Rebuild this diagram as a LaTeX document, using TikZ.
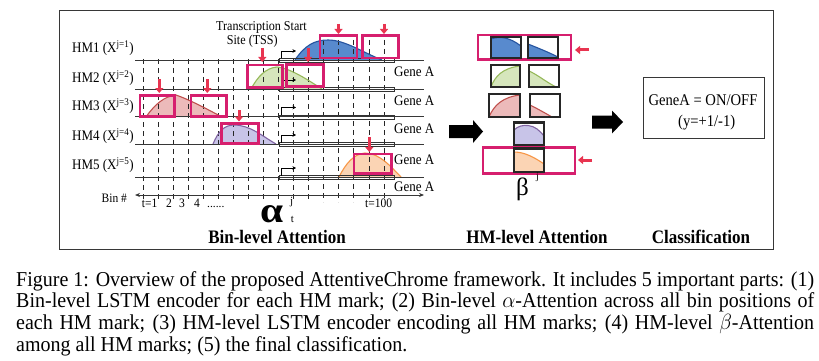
\documentclass[tikz,border=0pt]{standalone}
\usepackage{fontspec}
\setmainfont{Liberation Serif}
\usetikzlibrary{arrows.meta}
\definecolor{pinkbox}{RGB}{214,31,110}
\definecolor{redarr}{RGB}{232,52,80}
\definecolor{bluefill}{RGB}{88,138,206}
\definecolor{bluestroke}{RGB}{38,84,160}
\definecolor{greenfill}{RGB}{214,230,188}
\definecolor{greenstroke}{RGB}{150,185,90}
\definecolor{redfill}{RGB}{236,186,186}
\definecolor{redstroke}{RGB}{192,80,77}
\definecolor{purplefill}{RGB}{200,196,232}
\definecolor{purplestroke}{RGB}{128,100,162}
\definecolor{orangefill}{RGB}{251,212,180}
\definecolor{orangestroke}{RGB}{247,150,70}
\definecolor{linegray}{RGB}{55,55,55}
\newcommand{\talltext}[1]{\scalebox{1}[1.12]{#1}}
\newcommand{\captall}[1]{\scalebox{1}[1.06]{#1}}
\begin{document}
\begin{tikzpicture}[x=1pt,y=-1pt,
  hmlabel/.style={anchor=base west,inner sep=0pt,font=\fontsize{13}{15}\selectfont},
  genelabel/.style={anchor=base west,inner sep=0pt,font=\fontsize{13}{15}\selectfont},
  axislabel/.style={anchor=base west,inner sep=0pt,font=\fontsize{11.5}{13}\selectfont},
  boldlabel/.style={anchor=base,inner sep=0pt,font=\fontsize{17}{19}\selectfont\bfseries},
  capline/.style={anchor=base west,inner sep=0pt,font=\fontsize{20}{22}\selectfont},
  binline/.style={draw=linegray,line width=0.9pt},
  bindash/.style={draw=black!85,line width=0.8pt,dash pattern=on 5pt off 4pt},
  pinkrect/.style={draw=pinkbox,line width=2.6pt},
  redarrow/.style={draw=redarr,line width=3pt,-{Triangle[length=5pt,width=8pt]}},
  blackbox/.style={draw=black!85,line width=2.6pt},
  genebox/.style={draw=black!80,line width=0.8pt},
  tssarrow/.style={draw=black,line width=0.7pt,-{Stealth[length=3.5pt,width=3.5pt]}},
  sig/.style={line width=1.1pt}
]
\useasboundingbox (0,0) rectangle (819,361);
\fill[white] (0,0) rectangle (819,361);

% frame
\draw[linegray,line width=1pt] (59.5,10.5) rectangle (773,249.5);

% ---------- signal fills (left panel)
\fill[bluefill] (295,60) .. controls (305,45) and (315,40) .. (328,40) .. controls (345,40) and (362,52) .. (382,60) -- cycle;
\fill[greenfill] (251,89) .. controls (258,76) and (266,68) .. (277,67) .. controls (290,68) and (308,80) .. (322,89) -- cycle;
\fill[redfill] (146,117) .. controls (155,104) and (165,96) .. (176,95) .. controls (190,100) and (205,108) .. (222,117) -- cycle;
\fill[purplefill] (213,144) .. controls (218,132) and (224,125) .. (234,125) .. controls (250,125) and (262,136) .. (276,144) -- cycle;
\fill[orangefill] (339,177) .. controls (346,163) and (354,154) .. (365,153) .. controls (380,153) and (392,168) .. (401,177) -- cycle;

% ---------- dashed bin separators
\foreach \i in {0,...,16}{
  \pgfmathsetmacro\xx{143+15.06*\i}
  \pgfmathsetmacro\ytop{\i>11 ? 40 : 59}
  \draw[bindash] (\xx,\ytop) -- (\xx,202);
}

% ---------- signal outlines
\draw[bluestroke,sig] (295,60) .. controls (305,45) and (315,40) .. (328,40) .. controls (345,40) and (362,52) .. (382,60);
\draw[greenstroke,sig] (251,89) .. controls (258,76) and (266,68) .. (277,67) .. controls (290,68) and (308,80) .. (322,89);
\draw[redstroke,sig] (146,117) .. controls (155,104) and (165,96) .. (176,95) .. controls (190,100) and (205,108) .. (222,117);
\draw[purplestroke,sig] (213,144) .. controls (218,132) and (224,125) .. (234,125) .. controls (250,125) and (262,136) .. (276,144);
\draw[orangestroke,sig] (339,177) .. controls (346,163) and (354,154) .. (365,153) .. controls (380,153) and (392,168) .. (401,177);

% ---------- HM baselines, gene bodies, TSS arrows
\foreach \L in {60,89,116.5,144,177}{
  \draw[binline] (135,\L) -- (424,\L);
  \draw[genebox] (279,\L-1.5) rectangle (394,\L+2.5);
  \draw[tssarrow] (281,\L-1.5) -- (281,\L-9) -- (296,\L-9);
}

% bin axis
\coordinate (axL) at (135,195);
\coordinate (axR) at (424,195);
\draw[linegray,line width=0.8pt,{Stealth[length=5pt,width=4pt]}-{Stealth[length=5pt,width=4pt]}] (axL) -- (axR);

% ---------- pink attention boxes (left panel)
\draw[pinkrect] (320,35.7) rectangle (357,58);
\draw[pinkrect] (362.5,35.7) rectangle (398.5,58);
\draw[pinkrect] (247.3,65) rectangle (282.7,87.3);
\draw[pinkrect] (286.7,64.5) rectangle (323.3,86.5);
\draw[pinkrect] (140,95.3) rectangle (174.7,116.7);
\draw[pinkrect] (191,95.3) rectangle (226.7,116.7);
\draw[pinkrect] (221.7,123.3) rectangle (258.3,143.3);
\draw[pinkrect] (354,154) rectangle (391.7,173.3);

% red attention arrows
\draw[redarrow] (338.5,24) -- (338.5,34);
\draw[redarrow] (384,24) -- (384,34);
\draw[redarrow] (262.3,48) -- (262.3,62);
\draw[redarrow] (308,48) -- (308,62);
\draw[redarrow] (159.3,79) -- (159.3,93);
\draw[redarrow] (207.3,79) -- (207.3,93);
\draw[redarrow] (239,110) -- (239,121.5);
\draw[redarrow] (369.3,137) -- (369.3,152);

% ---------- left panel text
\node[hmlabel] (hm1) at (72,52.7) {\talltext{HM1 (X\textsuperscript{j=1})}};
\node[hmlabel] (hm2) at (72,82.7) {\talltext{HM2 (X\textsuperscript{j=2})}};
\node[hmlabel] (hm3) at (72,110.7) {\talltext{HM3 (X\textsuperscript{j=3})}};
\node[hmlabel] (hm4) at (72,140.7) {\talltext{HM4 (X\textsuperscript{j=4})}};
\node[hmlabel] (hm5) at (72,169.3) {\talltext{HM5 (X\textsuperscript{j=5})}};

\node[genelabel] (g1) at (394,76.5) {\talltext{Gene A}};
\node[genelabel] (g2) at (394,105.5) {\talltext{Gene A}};
\node[genelabel] (g3) at (394,133.5) {\talltext{Gene A}};
\node[genelabel] (g4) at (394,164.5) {\talltext{Gene A}};
\node[genelabel] (g5) at (394,191.5) {\talltext{Gene A}};

\node[anchor=base west,inner sep=0pt,font=\fontsize{12.1}{14}\selectfont] (tss1) at (216,30.5) {\talltext{Transcription Start}};
\node[anchor=base west,inner sep=0pt,font=\fontsize{12.1}{14}\selectfont] (tss2) at (226.7,45) {\talltext{Site (TSS)}};

\node[axislabel] (binno) at (101.5,202) {\talltext{Bin \#}};
\node[axislabel] (t1) at (141.7,207) {\talltext{t=1}};
\node[axislabel] (t2) at (166,207) {\talltext{2}};
\node[axislabel] (t3) at (179,207) {\talltext{3}};
\node[axislabel] (t4) at (194,207) {\talltext{4}};
\node[axislabel] (tdots) at (207,207) {......};
\node[axislabel] (t100) at (365,207) {\talltext{t=100}};

\node[anchor=base west,inner sep=0pt,font=\fontsize{36}{40}\selectfont\bfseries] (alpha) at (260,222) {\scalebox{1.15}[1]{α}};
\node[anchor=base west,inner sep=0pt,font=\fontsize{11}{12}\selectfont] (alj) at ([xshift=6.5pt,yshift=18pt]alpha.base east) {j};
\node[anchor=base west,inner sep=0.6pt,fill=white,font=\fontsize{11}{12}\selectfont] (alt) at ([xshift=6.5pt,yshift=0pt]alpha.base east) {t};

\node[boldlabel] (binatt) at (277,243.5) {\talltext{Bin-level Attention}};

% ---------- block arrows
\fill[black] (449,125) -- (473,125) -- (473,120) -- (483,131.5) -- (473,143) -- (473,138) -- (449,138) -- cycle;
\fill[black] (592,115.5) -- (612,115.5) -- (612,110.5) -- (623,122) -- (612,133.5) -- (612,128.5) -- (592,128.5) -- cycle;

% ---------- HM-level panel
\draw[pinkrect] (478,35) rectangle (571,59.3);
\draw[pinkrect] (483,147.5) rectangle (575,173.5);

% R1A
\begin{scope}\clip (491,37) rectangle (521,58);
\fill[bluefill] (491,39) .. controls (500,36) and (509,37) .. (521,46) -- (521,58) -- (491,58) -- cycle;
\draw[bluestroke,sig] (491,39) .. controls (500,36) and (509,37) .. (521,46);
\end{scope}
\draw[blackbox] (491,37) rectangle (521,58);
% R1B
\begin{scope}\clip (528,37) rectangle (558,58);
\fill[bluefill] (528,44) .. controls (538,48) and (548,52) .. (558,57) -- (558,58) -- (528,58) -- cycle;
\draw[bluestroke,sig] (528,44) .. controls (538,48) and (548,52) .. (558,57);
\end{scope}
\draw[blackbox] (528,37) rectangle (558,58);
% R2A
\begin{scope}\clip (491,65) rectangle (520,87);
\fill[greenfill] (491,87) .. controls (495,76) and (503,68) .. (520,66) -- (520,87) -- cycle;
\draw[greenstroke,sig] (491,87) .. controls (495,76) and (503,68) .. (520,66);
\end{scope}
\draw[blackbox] (491,65) rectangle (520,87);
% R2B
\begin{scope}\clip (529,65) rectangle (559,87);
\fill[greenfill] (529,71) .. controls (538,75) and (546,82) .. (556,87) -- (529,87) -- cycle;
\draw[greenstroke,sig] (529,71) .. controls (538,75) and (546,82) .. (556,87);
\end{scope}
\draw[blackbox] (529,65) rectangle (559,87);
% R3A
\begin{scope}\clip (489,94) rectangle (520,117);
\fill[redfill] (489,117) .. controls (494,105) and (503,97) .. (520,95) -- (520,117) -- cycle;
\draw[redstroke,sig] (489,117) .. controls (494,105) and (503,97) .. (520,95);
\end{scope}
\draw[blackbox] (489,94) rectangle (520,117);
% R3B
\begin{scope}\clip (530,94) rectangle (560,117);
\fill[redfill] (530,105) .. controls (538,109) and (545,113) .. (552,117) -- (530,117) -- cycle;
\draw[redstroke,sig] (530,105) .. controls (538,109) and (545,113) .. (552,117);
\end{scope}
\draw[blackbox] (530,94) rectangle (560,117);
% R4
\begin{scope}\clip (514,122.5) rectangle (544,145);
\fill[purplefill] (514,130) .. controls (518,126) and (523,125) .. (528,125.5) .. controls (535,126) and (540,131) .. (544,136) -- (544,145) -- (514,145) -- cycle;
\draw[purplestroke,sig] (514,130) .. controls (518,126) and (523,125) .. (528,125.5) .. controls (535,126) and (540,131) .. (544,136);
\end{scope}
\draw[blackbox] (514,122.5) rectangle (544,145);
% R5
\begin{scope}\clip (514,148.5) rectangle (544,172);
\fill[orangefill] (514,152) .. controls (524,152) and (534,157) .. (544,164) -- (544,172) -- (514,172) -- cycle;
\draw[orangestroke,sig] (514,152) .. controls (524,152) and (534,157) .. (544,164);
\end{scope}
\draw[blackbox] (514,148.5) rectangle (544,172);

\draw[redarrow] (589,50) -- (575,50);
\draw[redarrow] (592,160) -- (578,160);

\node[anchor=base west,inner sep=0pt,font=\fontsize{25}{27}\selectfont] (beta) at (516,195) {β};
\node[inner sep=0pt,font=\fontsize{10}{11}\selectfont] (betaj) at (537.5,177) {j};

\node[boldlabel] (hmatt) at (537,243.5) {\talltext{HM-level Attention}};

% ---------- classification
\draw[linegray,line width=1pt] (643.3,77.3) rectangle (764.3,138.3);
\node[anchor=base,inner sep=0pt,font=\fontsize{14.6}{16}\selectfont] (cls1) at (703,105) {\talltext{GeneA = ON/OFF}};
\node[anchor=base,inner sep=0pt,font=\fontsize{14.6}{16}\selectfont] (cls2) at (706.7,126.5) {\talltext{(y=+1/-1)}};
\node[boldlabel] (clsl) at (701,243.5) {\talltext{Classification}};

% ---------- caption
\node[capline] (c1) at (16,286) {\captall{\makebox[798pt][s]{Figure 1: Overview of the proposed AttentiveChrome framework. It includes 5 important parts: (1)}}};
\node[capline] (c2) at (16,307.7) {\captall{\makebox[798pt][s]{Bin-level LSTM encoder for each HM mark; (2) Bin-level $\alpha$-Attention across all bin positions of}}};
\node[capline] (c3) at (16,329.3) {\captall{\makebox[798pt][s]{each HM mark; (3) HM-level LSTM encoder encoding all HM marks; (4) HM-level $\beta$-Attention}}};
\node[capline] (c4) at (16,351) {\captall{among all HM marks; (5) the final classification.}};
\end{tikzpicture}
\end{document}
